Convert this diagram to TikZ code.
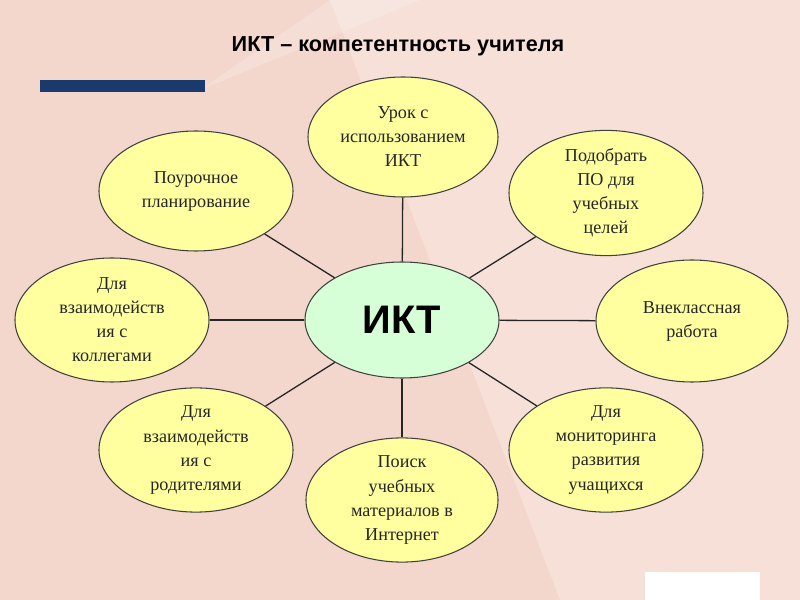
\documentclass[tikz,border=0pt]{standalone}
\usepackage{fontspec}
\setmainfont{Liberation Serif}
\newfontfamily\titlefont{Liberation Sans}
\usetikzlibrary{shapes.geometric}
\definecolor{bgc}{RGB}{243,214,204}
\definecolor{bgl}{RGB}{250,234,228}
\definecolor{barc}{RGB}{26,58,110}
\definecolor{yel}{RGB}{255,255,160}
\definecolor{grn}{RGB}{215,255,215}
\tikzset{
 oval/.style={ellipse,draw=black!75,line width=0.9pt,fill=yel,inner sep=0pt,align=center,text=black!85,font=\fontsize{15.5}{20.5}\selectfont},
 spoke/.style={line width=1.1pt,black!85}
}
\begin{document}
\begin{tikzpicture}[x=0.03cm,y=-0.03cm]
\fill[bgc] (0,0) rectangle (800,600);
\fill[bgl,opacity=0.5] (330,0) -- (800,0) -- (800,600) -- (560,600) -- cycle;
\fill[white,opacity=0.2] (200,90) -- (420,0) -- (330,0) -- cycle;
\useasboundingbox (0,0) rectangle (800,600);
\fill[barc] (40,80) rectangle (205,92);
\fill[white] (645,572) rectangle (760,600);
\node[font=\titlefont\bfseries\fontsize{18.5}{22}\selectfont] (title) at (398,46) {ИКТ – компетентность учителя};
\node[oval,fill=grn,minimum width=5.82cm,minimum height=3.48cm,text=black,font=\titlefont\bfseries\fontsize{34}{38}\selectfont] (c) at (402,320) {ИКТ};
\node[oval,minimum width=5.7cm,minimum height=3.6cm] (n1) at (403,137) {Урок с\\использованием\\ИКТ};
\node[oval,minimum width=5.82cm,minimum height=3.6cm] (n2) at (196,191) {Поурочное\\планирование};
\node[oval,minimum width=5.82cm,minimum height=3.72cm] (n3) at (606,193) {Подобрать\\ПО для\\учебных\\целей};
\node[oval,minimum width=5.82cm,minimum height=3.72cm] (n4) at (112,320) {Для\\взаимодейств\\ия с\\коллегами};
\node[oval,minimum width=5.76cm,minimum height=3.66cm] (n5) at (692,321) {Внеклассная\\работа};
\node[oval,minimum width=5.82cm,minimum height=3.6cm] (n6) at (196,450) {Для\\взаимодейств\\ия с\\родителями};
\node[oval,minimum width=5.76cm,minimum height=3.72cm] (n7) at (402,500) {Поиск\\учебных\\материалов в\\Интернет};
\node[oval,minimum width=5.82cm,minimum height=3.72cm] (n8) at (606,450) {Для\\мониторинга\\развития\\учащихся};
\foreach \n in {n1,n2,n3,n4,n5,n6,n7,n8} \draw[spoke] (c) -- (\n);
\end{tikzpicture}
\end{document}
